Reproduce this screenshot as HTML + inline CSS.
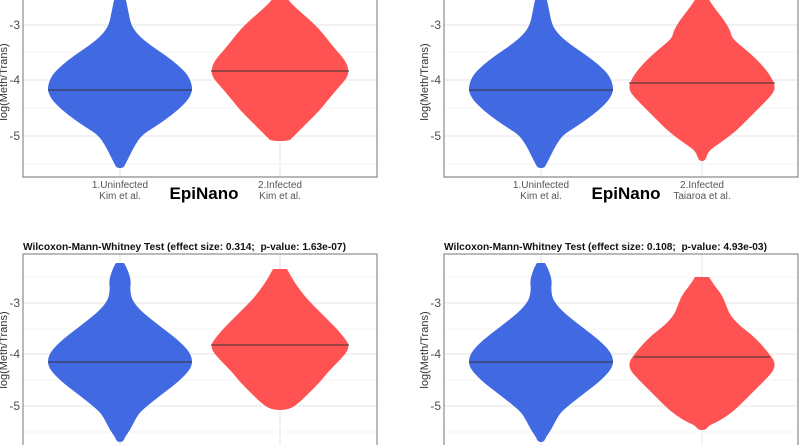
<!DOCTYPE html>
<html><head><meta charset="utf-8"><style>
html,body{margin:0;padding:0;background:#fff;}
svg{display:block;font-family:"Liberation Sans",Arial,sans-serif;}
</style></head><body>
<svg id="s" width="800" height="445" viewBox="0 0 800 445" xmlns="http://www.w3.org/2000/svg">
<rect width="800" height="445" fill="#fff"/>
<g id="grid" stroke="#ebebeb" stroke-width="1" fill="none"></g>
<g id="vio"></g>
<g id="frames" fill="none" stroke="#8c8c8c" stroke-width="1.2">
<path d="M23,-2 V177 H377 V-2"/>
<path d="M444,-2 V177 H798 V-2"/>
<rect x="23" y="254" width="354" height="200"/>
<rect x="444" y="254" width="354" height="200"/>
</g>
<g fill="#4d4d4d" font-size="12" text-anchor="end">
<text x="20" y="29">-3</text><text x="20" y="84">-4</text><text x="20" y="140">-5</text>
<text x="441" y="29">-3</text><text x="441" y="84">-4</text><text x="441" y="140">-5</text>
<text x="20" y="307">-3</text><text x="20" y="358">-4</text><text x="20" y="410">-5</text>
<text x="441" y="307">-3</text><text x="441" y="358">-4</text><text x="441" y="410">-5</text>
</g>
<g fill="#333" font-size="11" text-anchor="middle">
<text transform="translate(7,82) rotate(-90)">log(Meth/Trans)</text>
<text transform="translate(428,82) rotate(-90)">log(Meth/Trans)</text>
<text transform="translate(7,350) rotate(-90)">log(Meth/Trans)</text>
<text transform="translate(428,350) rotate(-90)">log(Meth/Trans)</text>
</g>
<g fill="#555" font-size="10" text-anchor="middle">
<text x="120" y="188">1.Uninfected</text><text x="120" y="199">Kim et al.</text>
<text x="280" y="188">2.Infected</text><text x="280" y="199">Kim et al.</text>
<text x="541" y="188">1.Uninfected</text><text x="541" y="199">Kim et al.</text>
<text x="702" y="188">2.Infected</text><text x="702" y="199">Taiaroa et al.</text>
</g>
<g fill="#000" font-size="17" font-weight="bold" text-anchor="middle">
<text x="204" y="199">EpiNano</text>
<text x="626" y="199">EpiNano</text>
</g>
<g fill="#111" font-size="10.2" font-weight="bold">
<text x="23" y="250">Wilcoxon-Mann-Whitney Test (effect size: 0.314;&#160; p-value: 1.63e-07)</text>
<text x="444" y="250">Wilcoxon-Mann-Whitney Test (effect size: 0.108;&#160; p-value: 4.93e-03)</text>
</g>
</svg>
<script>
var NS="http://www.w3.org/2000/svg";
var g=document.getElementById('grid');
function line(x1,y1,x2,y2,w){var l=document.createElementNS(NS,'line');l.setAttribute('x1',x1);l.setAttribute('y1',y1);l.setAttribute('x2',x2);l.setAttribute('y2',y2);if(w)l.setAttribute('stroke-width',w);g.appendChild(l);}
[[23,377,120,280],[444,798,541,702]].forEach(function(p){
 [25,80,136].forEach(function(y){line(p[0],y,p[1],y,1.2);});
 [-2,52,108,164].forEach(function(y){line(p[0],y,p[1],y,0.6);});
 line(p[2],-2,p[2],177,1.2);line(p[3],-2,p[3],177,1.2);
 [303,354,406].forEach(function(y){line(p[0],y,p[1],y,1.2);});
 [277,329,380,432].forEach(function(y){line(p[0],y,p[1],y,0.6);});
 line(p[2],254,p[2],445,1.2);line(p[3],254,p[3],445,1.2);
});
var v=document.getElementById('vio');
function violin(cx,prof,col,med){
 var L=[],R=[];
 prof.forEach(function(q){R.push([cx+q[1],q[0]]);});
 for(var i=prof.length-1;i>=0;i--)L.push([cx-prof[i][1],prof[i][0]]);
 var pts=R.concat(L);
 var d="M"+pts[0][0]+","+pts[0][1];
 for(var i=1;i<pts.length-1;i++){var mx=(pts[i][0]+pts[i+1][0])/2,my=(pts[i][1]+pts[i+1][1])/2;d+=" Q"+pts[i][0]+","+pts[i][1]+" "+mx+","+my;}
 d+=" L"+pts[pts.length-1][0]+","+pts[pts.length-1][1]+"Z";
 var p=document.createElementNS(NS,'path');p.setAttribute('d',d);p.setAttribute('fill',col);v.appendChild(p);
 var hw=0,best=1e9;prof.forEach(function(q){var dd=Math.abs(q[0]-med);if(dd<best){best=dd;hw=q[1];}});
 var l=document.createElementNS(NS,'line');l.setAttribute('x1',cx-hw);l.setAttribute('x2',cx+hw);l.setAttribute('y1',med);l.setAttribute('y2',med);l.setAttribute('stroke','#333');l.setAttribute('stroke-width','1');v.appendChild(l);
}
var B="#4169e1",Rd="#ff5353";
var tb=[[-3,5],[0,6],[10,8],[25,11],[35,18],[45,30],[55,45],[65,58],[75,68],[85,72],[92,72],[100,68],[110,58],[120,45],[128,33],[135,22],[145,15],[155,10],[165,5],[168,3]];
violin(120,tb,B,90);
violin(280,[[-3,7],[0,8],[10,18],[20,30],[30,40],[40,48],[50,56],[60,65],[70,69],[78,67],[88,58],[100,48],[110,40],[120,30],[130,20],[138,12],[141,9]],Rd,71);
violin(541,tb,B,90);
violin(702,[[-3,6],[0,7],[10,14],[20,22],[30,28],[38,30],[45,38],[55,50],[65,60],[75,68],[85,73],[92,72],[100,65],[110,55],[120,45],[130,35],[138,25],[145,15],[150,8],[155,5],[161,3]],Rd,83);
var bb=[[263,4],[268,7],[280,11],[290,10],[300,12],[310,20],[320,32],[330,45],[340,58],[350,68],[358,72],[365,72],[372,68],[382,58],[392,45],[402,32],[412,20],[420,15],[430,10],[437,5],[442,3]];
violin(120,bb,B,362);
violin(280,[[269,7],[280,13],[290,20],[300,28],[310,38],[320,48],[330,58],[340,66],[345,69],[352,67],[362,58],[372,48],[382,40],[392,30],[402,20],[410,9]],Rd,345);
violin(541,bb,B,362);
violin(702,[[277,7],[285,12],[295,20],[305,24],[315,28],[325,37],[335,50],[345,60],[355,68],[362,73],[370,72],[378,65],[388,55],[398,45],[408,35],[416,25],[422,15],[425,8],[428,5],[430,3]],Rd,357);
</script>
</body></html>
